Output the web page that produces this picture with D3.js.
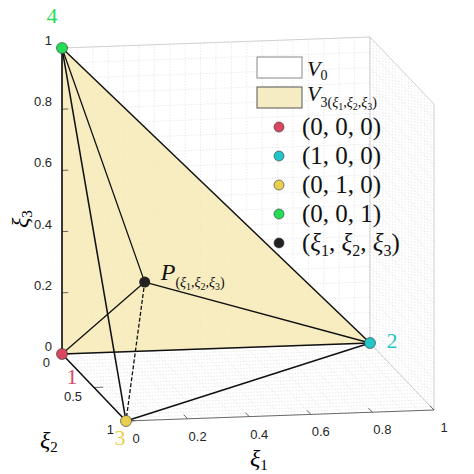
<!DOCTYPE html>
<html><head><meta charset="utf-8">
<script src="https://cdn.jsdelivr.net/npm/d3@7"></script>
<style>body{margin:0;background:#fff}</style>
</head><body>
<svg id="chart" width="474" height="474"></svg>
<script>
// simplex vertices in (xi1, xi2, xi3)
const vertices = [[0,0,0],[1,0,0],[0,1,0],[0,0,1]]
const vertexColors = ["#d9465f","#22c6c9","#e9cf4f","#22dd55"]
const vertexNames = ["1","2","3","4"]
const pointP = [0.2,0.33,0.3]
const ticks1 = [0,0.2,0.4,0.6,0.8,1]
const ticks2 = [0,0.5,1]
const ticks3 = [0,0.2,0.4,0.6,0.8,1]
const legendLabels = ["(0, 0, 0)","(1, 0, 0)","(0, 1, 0)","(0, 0, 1)",null]

const svg = d3.select("#chart")
const serif = "Liberation Serif, DejaVu Serif, serif"
// oblique projection (view of the 3d axes)
const sx = d3.scaleLinear().domain([0,1]).range([0,308])
const origin = [62,354]
function proj(p) {
  return [origin[0] + sx(p[0]) + 64*p[1], origin[1] - 11*p[0] + 67*p[1] - 306*p[2]]
}
const line = d3.line().x(d => proj(d)[0]).y(d => proj(d)[1])

// xi with subscripts, e.g. (ξ1,ξ2,ξ3)
function xiTriple(sel, size, sub, sep) {
  sel.append("tspan").text("(")
  ;[1,2,3].forEach(k => {
    sel.append("tspan").attr("font-style","italic").attr("font-size",size).text("ξ")
    sel.append("tspan").attr("font-size",sub).attr("dy",size*0.2).text(k)
    sel.append("tspan").attr("font-size",size).attr("dy",-size*0.2).text(k < 3 ? sep : ")")
  })
}

// grids on back walls and floor
const grid = svg.append("g").attr("stroke","#dcdcdc").attr("stroke-width",0.6).attr("stroke-dasharray","1.5,1.5").attr("fill","none")
const fine = d3.range(0,1.0001,0.05)
fine.forEach(t => {
  grid.append("path").attr("d", line([[t,0,0],[t,0,1]]))
  grid.append("path").attr("d", line([[0,0,t],[1,0,t]]))
  grid.append("path").attr("d", line([[1,t,0],[1,t,1]]))
  grid.append("path").attr("d", line([[1,0,t],[1,1,t]]))
  grid.append("path").attr("d", line([[t,0,0],[t,1,0]]))
  grid.append("path").attr("d", line([[0,t,0],[1,t,0]]))
})
const box = svg.append("g").attr("stroke","#c8c8c8").attr("stroke-width",0.8).attr("fill","none")
box.append("path").attr("d", line([[0,0,1],[1,0,1],[1,1,1],[1,1,0],[1,0,0],[1,0,1]]))
box.append("path").attr("d", line([[1,0,0],[0,0,0]]))

// shaded face V3
svg.append("path").attr("d", line([vertices[0],vertices[1],vertices[3]]) + "Z")
  .attr("fill","#f5e8b0").attr("fill-opacity",0.8).attr("stroke","none")

// axes
const ax = svg.append("g").attr("stroke","#444").attr("stroke-width",0.8).attr("fill","none")
ax.append("path").attr("d", line([[0,0,0],[0,0,1]]))
ax.append("path").attr("d", line([[0,0,0],[0,1,0]]))
ax.append("path").attr("d", line([[0,1,0],[1,1,0]]))
const tickText = svg.append("g").attr("font-family","Liberation Sans, Arial").attr("font-size",13).attr("fill","#262626")
ticks1.forEach(t => {
  ax.append("path").attr("d", line([[t,1,0],[t,0.94,0]]))
  const p = proj([t,1,0])
  tickText.append("text").attr("x",p[0]+10).attr("y",p[1]+22).attr("text-anchor","middle").text(t)
})
ticks2.forEach(t => {
  ax.append("path").attr("d", line([[0,t,0],[0.03,t,0]]))
  const p = proj([0,t,0])
  tickText.append("text").attr("x",p[0]-12).attr("y",p[1]+13).attr("text-anchor","end").text(t)
})
ticks3.forEach(t => {
  ax.append("path").attr("d", line([[0,0,t],[0.02,0,t]]))
  const p = proj([0,0,t])
  tickText.append("text").attr("x",p[0]-10).attr("y",p[1]-3).attr("text-anchor","end").text(t)
})

// tetrahedron edges
const edges = [[0,1],[0,2],[0,3],[1,2],[1,3],[2,3]]
svg.append("g").attr("stroke","#111").attr("stroke-width",1.5).attr("fill","none")
  .selectAll("path").data(edges).join("path").attr("d", e => line([vertices[e[0]],vertices[e[1]]]))
const pe = svg.append("g").attr("stroke","#111").attr("stroke-width",1.3).attr("fill","none")
pe.append("path").attr("d", line([pointP,vertices[0]]))
pe.append("path").attr("d", line([pointP,vertices[1]]))
pe.append("path").attr("d", line([pointP,vertices[3]]))
pe.append("path").attr("d", line([pointP,vertices[2]])).attr("stroke-dasharray","4,2")

// points
svg.selectAll("circle.v").data(vertices).join("circle").attr("class","v")
  .attr("cx", d => proj(d)[0]).attr("cy", d => proj(d)[1]).attr("r",5.5)
  .attr("fill",(d,i) => vertexColors[i]).attr("stroke","#333").attr("stroke-width",0.6)
svg.append("circle").attr("cx",proj(pointP)[0]).attr("cy",proj(pointP)[1]).attr("r",5.5).attr("fill","#222")

// vertex labels
const labelOffsets = [[10,30],[22,5],[-6,24],[-10,-25]]
vertexNames.forEach((n,i) => {
  const p = proj(vertices[i])
  svg.append("text").attr("x",p[0]+labelOffsets[i][0]).attr("y",p[1]+labelOffsets[i][1])
    .attr("font-family",serif).attr("font-size",22).attr("fill",vertexColors[i]).attr("text-anchor","middle").text(n)
})
const pp = proj(pointP)
const pl = svg.append("text").attr("x",pp[0]+16).attr("y",pp[1]-2).attr("font-family",serif).attr("font-size",24).attr("fill","#111")
pl.append("tspan").attr("font-style","italic").text("P")
const pls = pl.append("tspan").attr("font-size",14).attr("dy",7)
xiTriple(pls, 14, 10, ",")

// axis labels
svg.append("text").attr("x",250).attr("y",466).attr("font-family",serif).attr("font-size",24).attr("font-style","italic").text("ξ").append("tspan").attr("font-style","normal").attr("font-size",15).attr("dy",4).text("1")
svg.append("text").attr("x",40).attr("y",448).attr("font-family",serif).attr("font-size",24).attr("font-style","italic").text("ξ").append("tspan").attr("font-style","normal").attr("font-size",15).attr("dy",4).text("2")
svg.append("text").attr("transform","translate(28,228) rotate(-90)").attr("font-family",serif).attr("font-size",24).attr("font-style","italic").text("ξ").append("tspan").attr("font-style","normal").attr("font-size",15).attr("dy",4).text("3")

// legend
const lg = svg.append("g").attr("font-family",serif).attr("font-size",22).attr("fill","#111")
lg.append("rect").attr("x",257).attr("y",57).attr("width",45).attr("height",21).attr("fill","#fff").attr("stroke","#888")
lg.append("rect").attr("x",257).attr("y",87).attr("width",45).attr("height",21).attr("fill","#f6ecc4").attr("stroke","#555")
const t0 = lg.append("text").attr("x",307).attr("y",76)
t0.append("tspan").attr("font-style","italic").text("V")
t0.append("tspan").attr("font-size",14).attr("dy",4).text("0")
const t1 = lg.append("text").attr("x",307).attr("y",101)
t1.append("tspan").attr("font-style","italic").text("V")
const t1s = t1.append("tspan").attr("font-size",14).attr("dy",6)
t1s.append("tspan").text("3")
xiTriple(t1s, 14, 10, ",")
const legColors = vertexColors.concat(["#222"])
legendLabels.forEach((l,i) => {
  const y = 127 + i*29
  lg.append("circle").attr("cx",279).attr("cy",y).attr("r",5).attr("fill",legColors[i]).attr("stroke","#333").attr("stroke-width",0.6)
  const t = lg.append("text").attr("x",302).attr("y",y+8).attr("font-size",25)
  if (l) t.text(l); else xiTriple(t, 25, 16, ", ")
})
</script>
</body></html>
